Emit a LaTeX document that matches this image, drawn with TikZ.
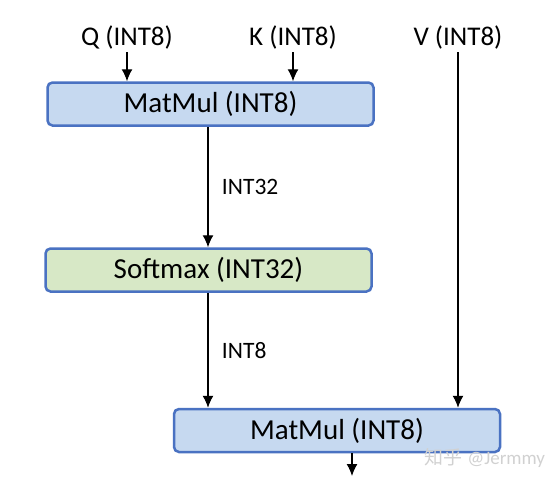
\documentclass[tikz,border=0pt]{standalone}
\usepackage{fontspec}
\setmainfont{Carlito}
\newfontfamily\cjk{Noto Sans CJK SC}
\usetikzlibrary{arrows.meta}
\definecolor{boxblue}{HTML}{C6D9F0}
\definecolor{boxgreen}{HTML}{D7E8C6}
\definecolor{edgeblue}{HTML}{4A72C2}
\tikzset{
  op/.style={draw=edgeblue,line width=2.5pt,rounded corners=5pt,minimum width=326pt,minimum height=43pt,inner sep=0pt,font=\fontsize{29}{32}\selectfont},
  lab/.style={font=\fontsize{27}{30}\selectfont},
  small/.style={font=\fontsize{23.5}{26}\selectfont},
  arr/.style={-{Latex[length=12pt,width=11pt]},line width=1.3pt}
}
\begin{document}
\begin{tikzpicture}[x=1pt,y=-1pt]
\useasboundingbox (0,0) rectangle (560,482);
\node[lab] (q) at (127,37){Q (INT8)};\node[lab] (k) at (293,37){K (INT8)};\node[lab] (v) at (458,37){V (INT8)};
\node[op,fill=boxblue] (mm1) at (210.5,104){MatMul (INT8)};
\node[op,fill=boxgreen] (sm) at (208.5,270){Softmax (INT32)};
\node[op,fill=boxblue] (mm2) at (337,430.5){MatMul (INT8)};
\coordinate (out) at (352,476);
\draw[arr] (q.south) -- (q.south |- mm1.north);\draw[arr] (k.south) -- (k.south |- mm1.north);
\draw[arr] (v.south) -- (v.south |- mm2.north);
\draw[arr] (mm1.south -| 208,0) -- (sm.north -| 208,0) node[midway,right=10pt,small]{INT32};
\draw[arr] (sm.south -| 208,0) -- (mm2.north -| 208,0) node[midway,right=10pt,small]{INT8};
\draw[arr] (mm2.south -| out) -- (out);
\node[text=black!18,font=\fontsize{19}{22}\selectfont] (wm) at (485,458){{\cjk 知乎} @Jermmy};
\end{tikzpicture}
\end{document}
